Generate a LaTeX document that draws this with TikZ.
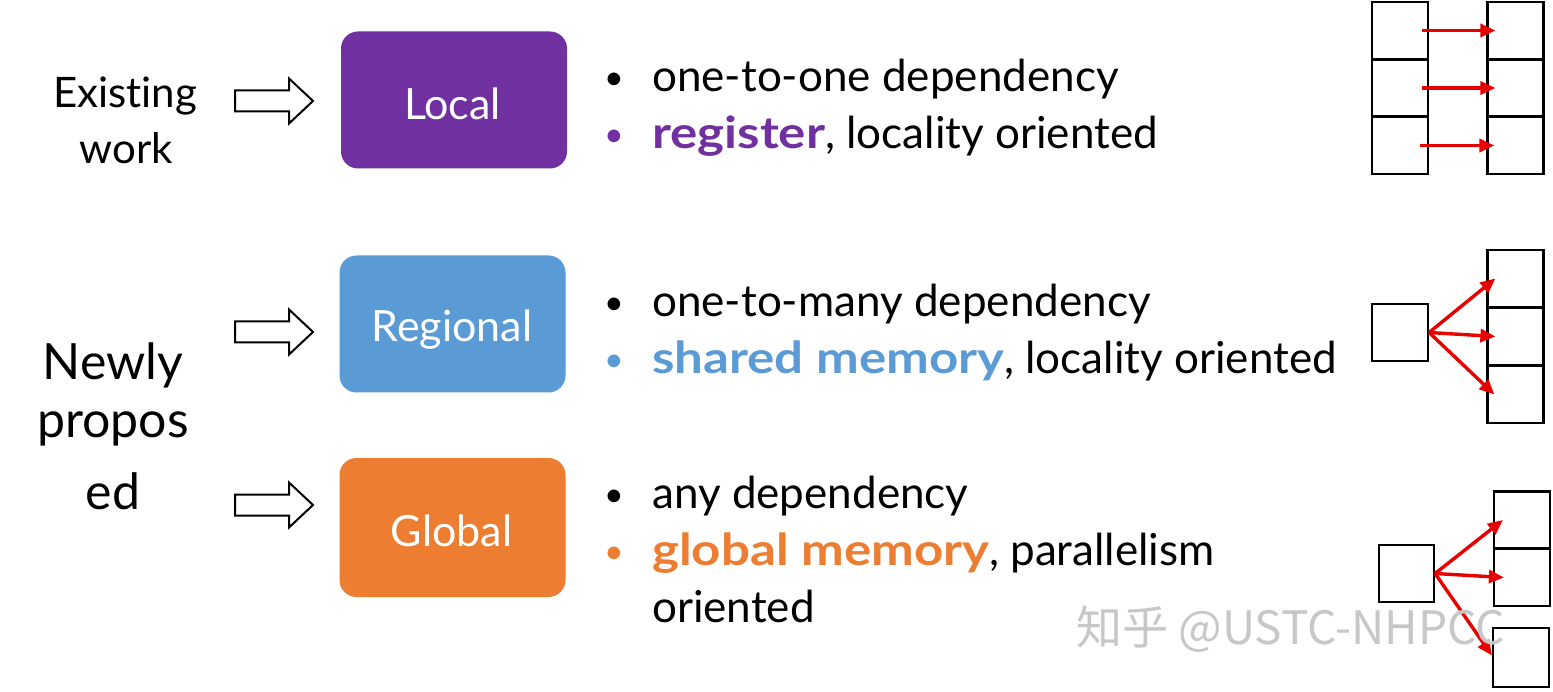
\documentclass[tikz,border=0pt]{standalone}
\usepackage{fontspec}
\setmainfont{Lato}[Ligatures={NoCommon}]
\newfontfamily\cjkfont{Noto Sans CJK SC}
\usetikzlibrary{arrows.meta,calc}
\definecolor{cpurple}{HTML}{7030A0}
\definecolor{cblue}{HTML}{5B9BD5}
\definecolor{corange}{HTML}{ED7D31}
\definecolor{cred}{HTML}{E60000}
\newcommand{\keyword}[2]{\textcolor{#1}{\scalebox{1.16}[1]{\textbf{#2}}}}
\tikzset{
  lbl/.style={inner sep=0pt, anchor=base, font=\fontsize{42}{42}\selectfont},
  biglbl/.style={inner sep=0pt, anchor=base, font=\fontsize{50}{50}\selectfont},
  kindbox/.style={rounded corners=17pt, inner sep=0pt, minimum width=226pt, minimum height=137pt},
  kindtxt/.style={inner sep=0pt, anchor=base, text=white, font=\fontsize{43}{43}\selectfont},
  btxt/.style={inner sep=0pt, anchor=base west, font=\fontsize{44}{44}\selectfont},
  bul/.style={inner sep=0pt, anchor=base, font=\fontsize{34}{34}\selectfont},
  cell/.style={draw=black, line width=2.2pt, minimum width=56pt, minimum height=57pt, inner sep=0pt},
  redarr/.style={draw=cred, line width=3.4pt, -{Triangle[length=15pt,width=13pt]}},
  blockarr/.style={draw=black, line width=2pt, fill=white, line join=miter},
}
\begin{document}
\begin{tikzpicture}[x=1pt,y=-1pt]
\useasboundingbox (0,0) rectangle (1553,692);
\fill[white] (0,0) rectangle (1553,692);

% left labels
\node[lbl] (ex1) at (125,108) {Existing};
\node[lbl] (ex2) at (126,164) {work};
\node[biglbl] (nw1) at (113,380) {Newly};
\node[biglbl] (nw2) at (113,438) {propos};
\node[biglbl] (nw3) at (113,509) {ed};

% block arrows
\foreach \n/\cy in {ba1/101, ba2/332, ba3/505}{
  \coordinate (\n) at (235,\cy);
  \draw[blockarr] (\n) ++(0,-10.5) -- ++(54,0) -- ++(0,-12) -- ++(24,22.5) -- ++(-24,22.5) -- ++(0,-12) -- ++(-54,0) -- cycle;
}

% category boxes
\node[kindbox, fill=cpurple] (local) at (454,100) {};
\node[kindbox, fill=cblue] (regional) at (452.5,324) {};
\node[kindbox, fill=corange, minimum height=139pt] (global) at (452.5,527.5) {};
\node[kindtxt] (tlocal) at (452.5,120) {Local};
\node[kindtxt] (tregional) at (452,342) {Regional};
\node[kindtxt] (tglobal) at (451.5,546) {Global};

% bullets
\node[bul] (b11) at (614,90) {•};
\node[btxt] (t11) at (652,92) {one-to-one dependency};
\node[bul, text=cpurple] (b12) at (614,147) {•};
\node[btxt] (t12) at (652,149) {\keyword{cpurple}{register}, locality oriented};

\node[bul] (b21) at (614,315) {•};
\node[btxt] (t21) at (652,317) {one-to-many dependency};
\node[bul, text=cblue] (b22) at (614,372) {•};
\node[btxt] (t22) at (652,374) {\keyword{cblue}{shared memory}, locality oriented};

\node[bul] (b31) at (614,506) {•};
\node[btxt] (t31) at (652,508) {any dependency};
\node[bul, text=corange] (b32) at (614,563) {•};
\node[btxt] (t32) at (652,565) {\keyword{corange}{global memory}, parallelism};
\node[btxt] (t33) at (652,622) {oriented};

% diagram 1: one-to-one
\node[cell] (la1) at (1400,30.5) {};
\node[cell] (la2) at (1400,88) {};
\node[cell] (la3) at (1400,145.5) {};
\node[cell] (ra1) at (1515.5,30.5) {};
\node[cell] (ra2) at (1515.5,88) {};
\node[cell] (ra3) at (1515.5,145.5) {};
\draw[redarr] ([xshift=-7pt]la1.east) -- ([xshift=9pt]ra1.west);
\draw[redarr] ([xshift=-7pt]la2.east) -- ([xshift=9pt]ra2.west);
\draw[redarr] ([xshift=-9pt]la3.east) -- ([xshift=8pt]ra3.west);

% diagram 2: one-to-many
\node[cell] (sb) at (1400,332.5) {};
\node[cell] (rb1) at (1515.5,278.5) {};
\node[cell] (rb2) at (1515.5,336.5) {};
\node[cell] (rb3) at (1515.5,394.5) {};
\draw[redarr] (sb.east) -- ([xshift=9pt]rb1.west);
\draw[redarr] (sb.east) -- ([xshift=9pt]rb2.west);
\draw[redarr] (sb.east) -- ([xshift=8pt]rb3.west);

% diagram 3: any
\node[cell, minimum width=55pt] (sc) at (1406.5,573.5) {};
\node[cell] (rc1) at (1522,520) {};
\node[cell] (rc2) at (1522,577.5) {};
\node[cell, minimum height=59pt] (rc3) at (1521,657.5) {};
\draw[redarr] (sc.east) -- ([xshift=10pt]rc1.west);
\draw[redarr] (sc.east) -- ([xshift=11pt]rc2.west);
\draw[redarr] (sc.east) -- ([yshift=2pt]rc3.west);

% watermark
\node[inner sep=0pt, anchor=base west, text=black!22, font=\cjkfont\fontsize{46}{46}\selectfont] (wm) at (1076,644) {知乎 @USTC-NHPCC};
\end{tikzpicture}
\end{document}
